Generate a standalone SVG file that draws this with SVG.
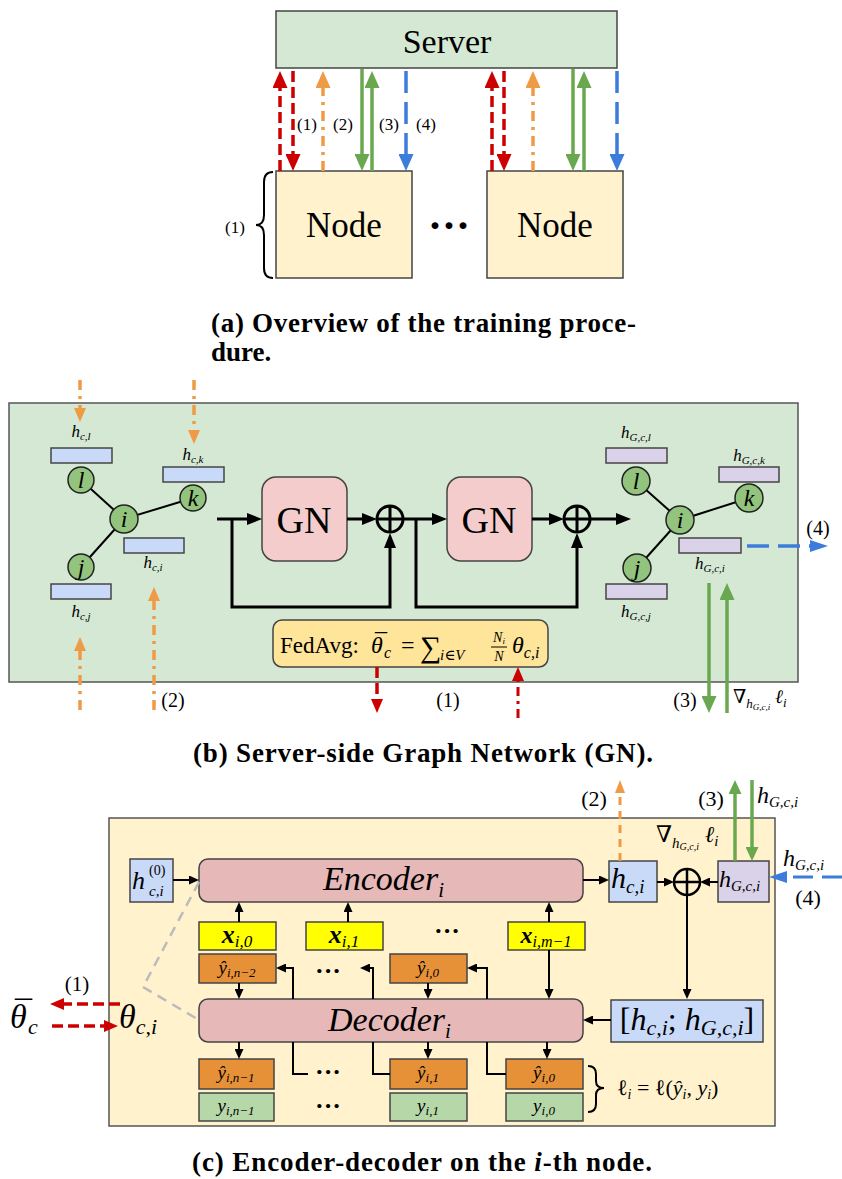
<svg xmlns="http://www.w3.org/2000/svg" width="842" height="1179" viewBox="0 0 842 1179" font-family="'Liberation Serif','Times New Roman','DejaVu Serif',serif">
<defs>
<style>
text{font-family:"Liberation Serif","Times New Roman","DejaVu Serif",serif;fill:#000;}
.i{font-style:italic;}
.n{font-style:normal;}
.bx{stroke:#444;stroke-width:1.5;}
.k2{stroke:#000;stroke-width:2;fill:none;}
.k3{stroke:#000;stroke-width:3;fill:none;}
.rd{stroke:#cc0000;stroke-width:3.5;fill:none;stroke-dasharray:11 5;}
.rdd{stroke:#cc0000;stroke-width:3;fill:none;stroke-dasharray:9 5 3 5;}
.or{stroke:#ef9a45;stroke-width:3.5;fill:none;stroke-dasharray:10 6 3 6;}
.or2{stroke:#ef9a45;stroke-width:3;fill:none;stroke-dasharray:8 6;}
.gr{stroke:#6aa84f;stroke-width:3.5;fill:none;}
.bl{stroke:#3c7ddc;stroke-width:3.5;fill:none;stroke-dasharray:22 9;}
.bl2{stroke:#3c7ddc;stroke-width:3;fill:none;stroke-dasharray:20 9;}
.gd{stroke:#bbbbbb;stroke-width:2.5;fill:none;stroke-dasharray:10 7;}
.cap{font-weight:bold;font-size:27px;}
.gn{fill:#f4cccc;}
.ed{fill:#e6b8b7;}
.hb{fill:#c9daf8;}
.hg{fill:#d9d2e9;}
.xb{fill:#ffff00;}
.yh{fill:#e69138;}
.yb{fill:#b6d7a8;}
.nd{fill:#93c47d;stroke:#222;stroke-width:1.5;}
</style>
<marker id="aR" markerUnits="userSpaceOnUse" markerWidth="17" markerHeight="15" viewBox="0 0 17 15" refX="1" refY="7.5" orient="auto"><path d="M0,0 L17,7.5 L0,15 z" fill="#cc0000"/></marker>
<marker id="aO" markerUnits="userSpaceOnUse" markerWidth="17" markerHeight="15" viewBox="0 0 17 15" refX="1" refY="7.5" orient="auto"><path d="M0,0 L17,7.5 L0,15 z" fill="#ef9a45"/></marker>
<marker id="aG" markerUnits="userSpaceOnUse" markerWidth="17" markerHeight="15" viewBox="0 0 17 15" refX="1" refY="7.5" orient="auto"><path d="M0,0 L17,7.5 L0,15 z" fill="#6aa84f"/></marker>
<marker id="aB" markerUnits="userSpaceOnUse" markerWidth="17" markerHeight="15" viewBox="0 0 17 15" refX="1" refY="7.5" orient="auto"><path d="M0,0 L17,7.5 L0,15 z" fill="#3c7ddc"/></marker>
<marker id="mK" markerUnits="userSpaceOnUse" markerWidth="15" markerHeight="12" viewBox="0 0 15 12" refX="1" refY="6" orient="auto"><path d="M0,0 L15,6 L0,12 z" fill="#000"/></marker>
<marker id="mO" markerUnits="userSpaceOnUse" markerWidth="14" markerHeight="12" viewBox="0 0 14 12" refX="1" refY="6" orient="auto"><path d="M0,0 L14,6 L0,12 z" fill="#ef9a45"/></marker>
<marker id="mR" markerUnits="userSpaceOnUse" markerWidth="14" markerHeight="12" viewBox="0 0 14 12" refX="1" refY="6" orient="auto"><path d="M0,0 L14,6 L0,12 z" fill="#cc0000"/></marker>
<marker id="mG" markerUnits="userSpaceOnUse" markerWidth="14" markerHeight="13" viewBox="0 0 14 13" refX="1" refY="6.5" orient="auto"><path d="M0,0 L14,6.5 L0,13 z" fill="#6aa84f"/></marker>
<marker id="mB" markerUnits="userSpaceOnUse" markerWidth="18" markerHeight="12" viewBox="0 0 18 12" refX="1" refY="6" orient="auto"><path d="M0,0 L18,6 L0,12 z" fill="#3c7ddc"/></marker>
<marker id="sK" markerUnits="userSpaceOnUse" markerWidth="10" markerHeight="9" viewBox="0 0 10 9" refX="1" refY="4.5" orient="auto"><path d="M0,0 L10,4.5 L0,9 z" fill="#000"/></marker>
<marker id="sO" markerUnits="userSpaceOnUse" markerWidth="13" markerHeight="10" viewBox="0 0 13 10" refX="1" refY="5" orient="auto"><path d="M0,0 L13,5 L0,10 z" fill="#ef9a45"/></marker>
</defs>
<rect x="0" y="0" width="842" height="1179" fill="#ffffff"/>

<!-- ================= Panel (a) ================= -->
<g id="server"><rect x="276" y="11" width="341" height="57" fill="#d5e8d4" class="bx"/><text x="447" y="53" font-size="34" text-anchor="middle">Server</text></g>
<g id="node-1"><rect x="276" y="171" width="136" height="107" fill="#fff2cc" class="bx"/><text x="344" y="237" font-size="35" text-anchor="middle">Node</text></g>
<g id="node-2"><rect x="487" y="171" width="136" height="107" fill="#fff2cc" class="bx"/><text x="555" y="237" font-size="35" text-anchor="middle">Node</text></g>
<g id="ellipsis-a"><text x="449" y="240" font-size="42" font-weight="bold" text-anchor="middle">···</text></g>
<g id="brace-a"><path d="M273,172 Q264,172 264,182 L264,215 Q264,225 256,225 Q264,225 264,235 L264,268 Q264,278 273,278" stroke="#000" stroke-width="2" fill="none"/><text x="235" y="233" font-size="17" text-anchor="middle">(1)</text></g>
<g id="labels-a" font-size="17" text-anchor="middle">
<text x="307" y="130">(1)</text><text x="343" y="130">(2)</text><text x="389" y="130">(3)</text><text x="426" y="130">(4)</text>
</g>

<!-- ================= Panel (b) ================= -->
<g id="gn-panel"><rect x="9" y="403" width="789" height="279" fill="#d5e8d4" stroke="#555" stroke-width="1.5"/></g>
<g id="graph-left">
<path d="M81,480 L124,519 L193,498 M124,519 L81,567" stroke="#000" stroke-width="2" fill="none"/>
<rect x="51" y="448" width="61" height="15" class="hb bx"/>
<rect x="163" y="467" width="61" height="15" class="hb bx"/>
<rect x="124" y="538" width="60" height="15" class="hb bx"/>
<rect x="51" y="584" width="60" height="15" class="hb bx"/>
<circle cx="81" cy="480" r="13" class="nd"/><text x="81" y="488" font-size="24" class="i" text-anchor="middle">l</text>
<circle cx="124" cy="519" r="14" class="nd"/><text x="124" y="527" font-size="24" class="i" text-anchor="middle">i</text>
<circle cx="193" cy="498" r="13" class="nd"/><text x="193" y="506" font-size="24" class="i" text-anchor="middle">k</text>
<circle cx="81" cy="567" r="13" class="nd"/><text x="81" y="575" font-size="24" class="i" text-anchor="middle">j</text>
<text x="81" y="437" font-size="17" class="i" text-anchor="middle">h<tspan font-size="11" dy="3">c,l</tspan></text>
<text x="193" y="460" font-size="17" class="i" text-anchor="middle">h<tspan font-size="11" dy="3">c,k</tspan></text>
<text x="153" y="568" font-size="17" class="i" text-anchor="middle">h<tspan font-size="11" dy="3">c,i</tspan></text>
<text x="81" y="617" font-size="17" class="i" text-anchor="middle">h<tspan font-size="11" dy="3">c,j</tspan></text>
</g>
<g id="gn-1"><rect x="262" y="477" width="85" height="84" rx="14" class="gn bx"/><text x="304" y="533" font-size="38" text-anchor="middle">GN</text></g>
<g id="gn-2"><rect x="447" y="477" width="85" height="84" rx="14" class="gn bx"/><text x="489" y="533" font-size="38" text-anchor="middle">GN</text></g>
<g id="oplus-1"><circle cx="390" cy="519" r="13" fill="none" stroke="#000" stroke-width="3"/><path d="M377,519 H403 M390,506 V532" stroke="#000" stroke-width="3"/></g>
<g id="oplus-2"><circle cx="577" cy="519" r="13" fill="none" stroke="#000" stroke-width="3"/><path d="M564,519 H590 M577,506 V532" stroke="#000" stroke-width="3"/></g>
<g id="graph-right">
<path d="M636,481 L680,520 L749,498 M680,520 L637,568" stroke="#000" stroke-width="2" fill="none"/>
<rect x="606" y="448" width="61" height="15" class="hg bx"/>
<rect x="719" y="467" width="60" height="15" class="hg bx"/>
<rect x="679" y="538" width="62" height="15" class="hg bx"/>
<rect x="606" y="584" width="61" height="15" class="hg bx"/>
<circle cx="636" cy="481" r="14" class="nd"/><text x="636" y="489" font-size="24" class="i" text-anchor="middle">l</text>
<circle cx="680" cy="520" r="14" class="nd"/><text x="680" y="528" font-size="24" class="i" text-anchor="middle">i</text>
<circle cx="749" cy="498" r="14" class="nd"/><text x="749" y="506" font-size="24" class="i" text-anchor="middle">k</text>
<circle cx="637" cy="568" r="14" class="nd"/><text x="637" y="576" font-size="24" class="i" text-anchor="middle">j</text>
<text x="636" y="438" font-size="17" class="i" text-anchor="middle">h<tspan font-size="11" dy="3">G,c,l</tspan></text>
<text x="749" y="461" font-size="17" class="i" text-anchor="middle">h<tspan font-size="11" dy="3">G,c,k</tspan></text>
<text x="710" y="569" font-size="17" class="i" text-anchor="middle">h<tspan font-size="11" dy="3">G,c,i</tspan></text>
<text x="636" y="617" font-size="17" class="i" text-anchor="middle">h<tspan font-size="11" dy="3">G,c,j</tspan></text>
</g>
<g id="fedavg"><rect x="273" y="620" width="275" height="47" rx="9" fill="#ffe599" class="bx"/>
<text x="280" y="653" font-size="23">FedAvg:</text>
<text x="371" y="653" font-size="24" class="i">θ<tspan x="375" y="650" class="n">¯</tspan><tspan x="384" y="658" font-size="16">c</tspan></text>
<text x="401" y="653" font-size="24">=</text>
<text x="420" y="657" font-size="30">∑</text>
<text x="440" y="660" font-size="15" class="i">i∈V</text>
<text x="499" y="642" font-size="14" class="i" text-anchor="middle">N<tspan font-size="9" dy="2">i</tspan></text>
<path d="M491,647 H507" stroke="#000" stroke-width="1"/>
<text x="499" y="661" font-size="14" class="i" text-anchor="middle">N</text>
<text x="512" y="653" font-size="24" class="i">θ<tspan font-size="16" dy="5">c,i</tspan></text>
</g>
<g id="labels-b">
<text x="173" y="707" font-size="20" text-anchor="middle">(2)</text>
<text x="448" y="707" font-size="20" text-anchor="middle">(1)</text>
<text x="685" y="707" font-size="20" text-anchor="middle">(3)</text>
<text x="818" y="535" font-size="20" text-anchor="middle">(4)</text>
<text x="733" y="703" font-size="19">∇<tspan font-size="13" dy="5" class="i">h</tspan><tspan font-size="9" dy="2" class="i">G,c,i</tspan><tspan font-size="19" dy="-7" class="i"> ℓ</tspan><tspan font-size="13" dy="4" class="i">i</tspan></text>
</g>

<!-- ================= Panel (c) ================= -->
<g id="node-panel"><rect x="109" y="818" width="666" height="308" fill="#fff2cc" stroke="#555" stroke-width="1.5"/></g>
<g id="h0"><rect x="130" y="859" width="43" height="43" class="hb bx"/>
<text x="132" y="889" font-size="26" class="i">h<tspan x="149" y="875" font-size="14" class="n">(0)</tspan><tspan x="149" y="896" font-size="15">c,i</tspan></text></g>
<g id="encoder"><rect x="199" y="859" width="384" height="43" rx="9" class="ed bx"/>
<text x="323" y="890" font-size="34" class="i">Encoder<tspan font-size="21" dy="7">i</tspan></text></g>
<g id="decoder"><rect x="199" y="999" width="384" height="43" rx="9" class="ed bx"/>
<text x="328" y="1031" font-size="34" class="i">Decoder<tspan font-size="21" dy="7">i</tspan></text></g>
<g id="x-0"><rect x="199" y="922" width="77" height="28" class="xb bx"/><text x="237" y="943" font-size="26" font-weight="bold" class="i" text-anchor="middle">x<tspan font-size="17" dy="4" font-weight="normal">i,0</tspan></text></g>
<g id="x-1"><rect x="306" y="922" width="77" height="28" class="xb bx"/><text x="344" y="943" font-size="26" font-weight="bold" class="i" text-anchor="middle">x<tspan font-size="17" dy="4" font-weight="normal">i,1</tspan></text></g>
<g id="x-m"><rect x="508" y="922" width="77" height="28" class="xb bx"/><text x="546" y="943" font-size="24" font-weight="bold" class="i" text-anchor="middle">x<tspan font-size="16" dy="4" font-weight="normal">i,m−1</tspan></text></g>
<g id="yhat-n2"><rect x="199" y="954" width="77" height="29" class="yh bx"/><text x="237" y="974" font-size="19" class="i" text-anchor="middle">ŷ<tspan font-size="13" dy="3">i,n−2</tspan></text></g>
<g id="yhat-0a"><rect x="390" y="954" width="77" height="29" class="yh bx"/><text x="428" y="974" font-size="19" class="i" text-anchor="middle">ŷ<tspan font-size="13" dy="3">i,0</tspan></text></g>
<g id="yhat-n1"><rect x="199" y="1059" width="75" height="30" class="yh bx"/><text x="236" y="1079" font-size="19" class="i" text-anchor="middle">ŷ<tspan font-size="13" dy="3">i,n−1</tspan></text></g>
<g id="yhat-1"><rect x="390" y="1059" width="77" height="30" class="yh bx"/><text x="428" y="1079" font-size="19" class="i" text-anchor="middle">ŷ<tspan font-size="13" dy="3">i,1</tspan></text></g>
<g id="yhat-0b"><rect x="506" y="1059" width="77" height="30" class="yh bx"/><text x="544" y="1079" font-size="19" class="i" text-anchor="middle">ŷ<tspan font-size="13" dy="3">i,0</tspan></text></g>
<g id="y-n1"><rect x="199" y="1093" width="75" height="28" class="yb bx"/><text x="236" y="1112" font-size="19" class="i" text-anchor="middle">y<tspan font-size="13" dy="3">i,n−1</tspan></text></g>
<g id="y-1"><rect x="390" y="1093" width="77" height="28" class="yb bx"/><text x="428" y="1112" font-size="19" class="i" text-anchor="middle">y<tspan font-size="13" dy="3">i,1</tspan></text></g>
<g id="y-0"><rect x="506" y="1093" width="77" height="28" class="yb bx"/><text x="544" y="1112" font-size="19" class="i" text-anchor="middle">y<tspan font-size="13" dy="3">i,0</tspan></text></g>
<g id="ellipsis-c" font-size="26" font-weight="bold" text-anchor="middle">
<text x="447" y="939">···</text><text x="328" y="979">···</text><text x="328" y="1080">···</text><text x="328" y="1114">···</text>
</g>
<g id="h-ci"><rect x="609" y="861" width="48" height="41" class="hb bx"/><text x="611" y="888" font-size="30" class="i">h<tspan font-size="19" dy="5">c,i</tspan></text></g>
<g id="h-gci"><rect x="718" y="861" width="51" height="41" class="hg bx"/><text x="719" y="887" font-size="24" class="i">h<tspan font-size="15" dy="4">G,c,i</tspan></text></g>
<g id="oplus-c"><circle cx="687" cy="882" r="13" fill="none" stroke="#000" stroke-width="2.5"/><path d="M674,882 H700 M687,869 V895" stroke="#000" stroke-width="2.5"/></g>
<g id="concat"><rect x="611" y="1000" width="152" height="42" class="hb bx"/>
<text x="687" y="1030" font-size="32" text-anchor="middle">[<tspan class="i">h</tspan><tspan font-size="22" dy="5" class="i">c,i</tspan><tspan dy="-5">; </tspan><tspan class="i">h</tspan><tspan font-size="22" dy="5" class="i">G,c,i</tspan><tspan dy="-5">]</tspan></text></g>
<g id="theta-ci"><text x="119" y="1028" font-size="34" class="i">θ<tspan font-size="22" dy="6">c,i</tspan></text></g>
<g id="theta-bar"><text x="10" y="1028" font-size="34" class="i">θ<tspan x="15" y="1024" class="n">¯</tspan><tspan x="28" y="1034" font-size="22">c</tspan></text></g>
<g id="loss-brace"><path d="M588,1066 Q596,1066 596,1074 L596,1081 Q596,1088 604,1088 Q596,1088 596,1095 L596,1104 Q596,1112 588,1112" stroke="#000" stroke-width="2" fill="none"/>
<text x="617" y="1095" font-size="22">ℓ<tspan font-size="14" dy="4" class="i">i</tspan><tspan dy="-4"> = ℓ(</tspan><tspan class="i">ŷ</tspan><tspan font-size="14" dy="4" class="i">i</tspan><tspan dy="-4">, </tspan><tspan class="i">y</tspan><tspan font-size="14" dy="4" class="i">i</tspan><tspan dy="-4">)</tspan></text></g>
<g id="labels-c">
<text x="77" y="991" font-size="21" text-anchor="middle">(1)</text>
<text x="594" y="806" font-size="22" text-anchor="middle">(2)</text>
<text x="711" y="806" font-size="22" text-anchor="middle">(3)</text>
<text x="757" y="803" font-size="24" class="i">h<tspan font-size="15" dy="4">G,c,i</tspan></text>
<text x="656" y="842" font-size="23">∇<tspan font-size="15" dy="6" class="i">h</tspan><tspan font-size="10" dy="2" class="i">G,c,i</tspan><tspan font-size="23" dy="-8" class="i"> ℓ</tspan><tspan font-size="15" dy="4" class="i">i</tspan></text>
<text x="783" y="866" font-size="24" class="i">h<tspan font-size="15" dy="4">G,c,i</tspan></text>
<text x="808" y="905" font-size="22" text-anchor="middle">(4)</text>
</g>

<!-- ================= Connectors ================= -->
<g id="connectors">
<g id="conn-a">
<path class="rd" d="M280,171 V87" marker-end="url(#aR)"/>
<path class="rd" d="M293,71 V155" marker-end="url(#aR)"/>
<path class="or" d="M323,171 V87" marker-end="url(#aO)"/>
<path class="gr" d="M362,69 V155" marker-end="url(#aG)"/>
<path class="gr" d="M372,171 V87" marker-end="url(#aG)"/>
<path class="bl" d="M406,71 V155" marker-end="url(#aB)"/>
<path class="rd" d="M492,171 V87" marker-end="url(#aR)"/>
<path class="rd" d="M504,71 V155" marker-end="url(#aR)"/>
<path class="or" d="M533,171 V87" marker-end="url(#aO)"/>
<path class="gr" d="M573,69 V155" marker-end="url(#aG)"/>
<path class="gr" d="M584,171 V87" marker-end="url(#aG)"/>
<path class="bl" d="M617,71 V155" marker-end="url(#aB)"/>
</g>
<g id="conn-b">
<path class="or" d="M80,380 V409" stroke-width="3" marker-end="url(#mO)"/>
<path class="or" d="M194,380 V431" stroke-width="3" marker-end="url(#mO)"/>
<path class="or" d="M80,710 V650" stroke-width="3" marker-end="url(#mO)"/>
<path class="or" d="M154,710 V600" stroke-width="3" marker-end="url(#mO)"/>
<path class="k3" d="M217,519 H248" marker-end="url(#mK)"/>
<path class="k3" d="M347,519 H363" marker-end="url(#mK)"/>
<path class="k3" d="M403,519 H433" marker-end="url(#mK)"/>
<path class="k3" d="M532,519 H550" marker-end="url(#mK)"/>
<path class="k3" d="M590,519 H617" marker-end="url(#mK)"/>
<path class="k3" d="M232,519 V607 H390 V547" marker-end="url(#mK)"/>
<path class="k3" d="M416,519 V607 H577 V547" marker-end="url(#mK)"/>
<path class="rd" d="M377,667 V700" stroke-width="3" stroke-dasharray="8 5" marker-end="url(#mR)"/>
<path class="rdd" d="M518,718 V680" marker-end="url(#mR)"/>
<path class="gr" d="M709,583 V697" marker-end="url(#aG)"/>
<path class="gr" d="M727,713 V599" marker-end="url(#aG)"/>
<path class="bl" d="M747,546 H811" stroke-width="3" stroke-dasharray="20 10" marker-end="url(#mB)"/>
</g>
<g id="conn-c">
<path class="k2" d="M173,880 H190" marker-end="url(#sK)"/>
<path class="k2" d="M239,922 V911" marker-end="url(#sK)"/>
<path class="k2" d="M348,922 V911" marker-end="url(#sK)"/>
<path class="k2" d="M549,922 V911" marker-end="url(#sK)"/>
<path class="k2" d="M549,950 V990" marker-end="url(#sK)"/>
<path class="k2" d="M239,983 V990" marker-end="url(#sK)"/>
<path class="k2" d="M428,983 V990" marker-end="url(#sK)"/>
<path class="k2" d="M293,999 V968 H285" marker-end="url(#sK)"/>
<path class="k2" d="M373,999 V968 H369" marker-end="url(#sK)"/>
<path class="k2" d="M487,999 V968 H476" marker-end="url(#sK)"/>
<path class="k2" d="M239,1042 V1050" marker-end="url(#sK)"/>
<path class="k2" d="M428,1042 V1050" marker-end="url(#sK)"/>
<path class="k2" d="M547,1042 V1050" marker-end="url(#sK)"/>
<path class="k2" d="M293,1042 V1074 H308"/>
<path class="k2" d="M373,1042 V1074 H390"/>
<path class="k2" d="M487,1042 V1074 H506"/>
<path class="k2" d="M583,880 H600" marker-end="url(#sK)"/>
<path class="k2" d="M657,882 H665" marker-end="url(#sK)"/>
<path class="k2" d="M718,882 H709" marker-end="url(#sK)"/>
<path class="k2" d="M687,895 V990" marker-end="url(#sK)"/>
<path class="k2" d="M611,1020 H592" marker-end="url(#sK)"/>
<path class="or2" d="M620,861 V792" marker-end="url(#sO)"/>
<path class="gr" d="M735,861 V793" stroke-width="3" marker-end="url(#mG)"/>
<path class="gr" d="M752,780 V848" stroke-width="3" marker-end="url(#mG)"/>
<path class="bl2" d="M842,877 H786" marker-end="url(#mB)"/>
<path class="rd" d="M120,1004 H63" stroke-width="3" stroke-dasharray="9 5" marker-end="url(#mR)"/>
<path class="rd" d="M52,1026 H105" stroke-width="3" stroke-dasharray="9 5" marker-end="url(#mR)"/>
<path class="gd" d="M199,882 L143,987 L199,1020"/>
</g>
</g>

<!-- ================= Captions ================= -->
<g id="captions">
<text class="cap" x="211" y="332" textLength="425" lengthAdjust="spacing">(a) Overview of the training proce-</text>
<text class="cap" x="211" y="361">dure.</text>
<text class="cap" x="193" y="762" textLength="460" lengthAdjust="spacing">(b) Server-side Graph Network (GN).</text>
<text class="cap" x="192" y="1171" textLength="460" lengthAdjust="spacing">(c) Encoder-decoder on the <tspan class="i">i</tspan>-th node.</text>
</g>
</svg>
